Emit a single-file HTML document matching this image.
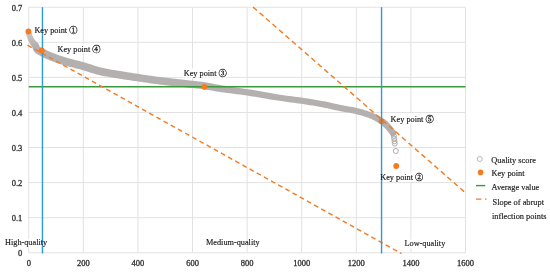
<!DOCTYPE html>
<html><head><meta charset="utf-8"><style>
html,body{margin:0;padding:0;background:#fff;}
body{width:550px;height:272px;overflow:hidden;}
svg{display:block;}
text{font-family:"Liberation Serif","Noto Serif CJK SC",serif;}
</style></head><body>
<svg width="550" height="272" viewBox="0 0 550 272">
<rect width="550" height="272" fill="#fff"/>
<g stroke="#e2e2e2" stroke-width="1" fill="none"><line x1="83.34" y1="7.26" x2="83.34" y2="252.75"/><line x1="137.94" y1="7.26" x2="137.94" y2="252.75"/><line x1="192.53" y1="7.26" x2="192.53" y2="252.75"/><line x1="247.12" y1="7.26" x2="247.12" y2="252.75"/><line x1="301.72" y1="7.26" x2="301.72" y2="252.75"/><line x1="356.31" y1="7.26" x2="356.31" y2="252.75"/><line x1="410.91" y1="7.26" x2="410.91" y2="252.75"/><line x1="465.50" y1="7.26" x2="465.50" y2="252.75"/><line x1="28.75" y1="217.68" x2="465.50" y2="217.68"/><line x1="28.75" y1="182.61" x2="465.50" y2="182.61"/><line x1="28.75" y1="147.54" x2="465.50" y2="147.54"/><line x1="28.75" y1="112.47" x2="465.50" y2="112.47"/><line x1="28.75" y1="77.40" x2="465.50" y2="77.40"/><line x1="28.75" y1="42.33" x2="465.50" y2="42.33"/><line x1="28.75" y1="7.26" x2="465.50" y2="7.26"/><line x1="28.75" y1="7.26" x2="28.75" y2="252.75"/><line x1="28.75" y1="252.75" x2="465.50" y2="252.75"/></g>
<g font-size="8.5" fill="#333" stroke="#333" stroke-width="0.32"><text x="22.3" y="256.15" text-anchor="end">0</text><text x="22.3" y="221.08" text-anchor="end">0.1</text><text x="22.3" y="186.01" text-anchor="end">0.2</text><text x="22.3" y="150.94" text-anchor="end">0.3</text><text x="22.3" y="115.87" text-anchor="end">0.4</text><text x="22.3" y="80.80" text-anchor="end">0.5</text><text x="22.3" y="45.73" text-anchor="end">0.6</text><text x="22.3" y="10.66" text-anchor="end">0.7</text><text x="28.75" y="266.3" text-anchor="middle">0</text><text x="83.34" y="266.3" text-anchor="middle">200</text><text x="137.94" y="266.3" text-anchor="middle">400</text><text x="192.53" y="266.3" text-anchor="middle">600</text><text x="247.12" y="266.3" text-anchor="middle">800</text><text x="301.72" y="266.3" text-anchor="middle">1000</text><text x="356.31" y="266.3" text-anchor="middle">1200</text><text x="410.91" y="266.3" text-anchor="middle">1400</text><text x="465.50" y="266.3" text-anchor="middle">1600</text></g>
<defs><linearGradient id="bg" gradientUnits="userSpaceOnUse" x1="0" y1="34" x2="0" y2="46"><stop offset="0" stop-color="#c9c5c5"/><stop offset="1" stop-color="#b4b0b0"/></linearGradient></defs><g fill="url(#bg)"><path d="M26.36,34.52 L26.41,34.73 L26.48,35.01 L26.56,35.37 L26.66,35.77 L26.77,36.21 L26.89,36.66 L27.02,37.11 L27.16,37.55 L27.30,37.94 L27.43,38.30 L27.57,38.64 L27.71,38.97 L27.86,39.30 L28.01,39.63 L28.16,39.96 L28.32,40.30 L28.48,40.67 L28.64,41.07 L28.82,41.52 L29.03,41.99 L29.25,42.49 L29.49,43.01 L29.77,43.55 L30.08,44.11 L30.45,44.70 L30.83,45.25 L31.19,45.74 L31.52,46.19 L31.83,46.58 L32.08,46.92 L32.28,47.22 L32.39,47.42 L32.43,47.54 L32.49,47.74 L32.59,48.11 L32.74,48.66 L32.97,49.37 L33.33,50.22 L33.86,51.16 L34.57,52.06 L35.32,52.79 L36.06,53.39 L36.80,53.92 L37.54,54.40 L38.27,54.84 L39.01,55.23 L39.75,55.61 L40.50,56.01 L41.26,56.42 L42.04,56.85 L42.88,57.30 L43.78,57.75 L44.79,58.23 L45.90,58.73 L47.14,59.25 L48.53,59.81 L50.07,60.41 L51.76,61.05 L53.58,61.72 L55.51,62.43 L57.53,63.14 L59.61,63.84 L61.72,64.53 L63.86,65.20 L66.05,65.83 L68.31,66.43 L70.61,67.02 L72.93,67.59 L75.24,68.15 L77.53,68.72 L79.77,69.30 L81.92,69.88 L84.00,70.49 L86.04,71.14 L88.08,71.80 L90.15,72.49 L92.26,73.17 L94.45,73.85 L96.72,74.49 L99.09,75.09 L101.56,75.64 L104.11,76.15 L106.70,76.62 L109.32,77.07 L111.92,77.50 L114.49,77.91 L116.98,78.30 L119.37,78.69 L121.65,79.06 L123.83,79.41 L125.94,79.73 L128.02,80.05 L130.12,80.36 L132.27,80.67 L134.54,81.00 L136.94,81.35 L139.44,81.71 L141.98,82.09 L144.58,82.47 L147.27,82.86 L150.08,83.26 L153.05,83.67 L156.19,84.08 L159.55,84.49 L163.29,84.93 L167.49,85.40 L171.96,85.88 L176.52,86.36 L180.99,86.83 L185.20,87.27 L188.96,87.66 L192.10,88.00 L194.54,88.26 L196.41,88.46 L197.85,88.60 L198.99,88.72 L200.00,88.83 L201.04,88.95 L202.28,89.10 L203.86,89.32 L205.70,89.60 L207.61,89.90 L209.62,90.24 L211.73,90.60 L213.96,90.99 L216.33,91.38 L218.83,91.78 L221.48,92.18 L224.28,92.57 L227.19,92.95 L230.23,93.34 L233.37,93.74 L236.63,94.15 L239.99,94.59 L243.45,95.06 L247.01,95.57 L250.79,96.14 L254.86,96.78 L259.12,97.46 L263.45,98.19 L267.76,98.93 L271.95,99.63 L275.90,100.29 L279.53,100.86 L282.80,101.35 L285.80,101.78 L288.59,102.15 L291.22,102.49 L293.76,102.81 L296.27,103.14 L298.80,103.48 L301.44,103.87 L304.20,104.29 L307.02,104.72 L309.86,105.17 L312.68,105.62 L315.46,106.08 L318.15,106.54 L320.74,107.00 L323.17,107.45 L325.43,107.89 L327.54,108.34 L329.56,108.80 L331.51,109.26 L333.44,109.71 L335.38,110.16 L337.35,110.61 L339.39,111.04 L341.48,111.44 L343.57,111.81 L345.64,112.16 L347.69,112.50 L349.71,112.84 L351.69,113.20 L353.63,113.58 L355.53,114.02 L357.45,114.49 L359.38,115.00 L361.31,115.54 L363.20,116.09 L365.05,116.67 L366.82,117.26 L368.51,117.86 L370.08,118.47 L371.54,119.11 L372.95,119.81 L374.31,120.53 L375.61,121.27 L376.85,122.02 L378.02,122.75 L379.12,123.46 L380.12,124.12 L380.98,124.71 L381.69,125.24 L382.31,125.74 L382.87,126.23 L383.40,126.69 L383.92,127.18 L384.46,127.69 L385.00,128.20 L385.49,128.69 L385.94,129.17 L386.38,129.66 L386.81,130.17 L387.22,130.68 L387.62,131.19 L388.01,131.69 L388.38,132.15 L388.71,132.56 L389.00,132.94 L389.28,133.31 L389.53,133.67 L389.76,134.00 L389.97,134.30 L390.17,134.58 L390.32,134.80 L395.48,131.20 L395.35,131.01 L395.18,130.76 L394.97,130.44 L394.72,130.07 L394.44,129.65 L394.12,129.20 L393.77,128.72 L393.42,128.25 L393.06,127.79 L392.69,127.28 L392.27,126.73 L391.82,126.14 L391.32,125.52 L390.78,124.88 L390.20,124.23 L389.60,123.60 L389.03,123.03 L388.48,122.46 L387.87,121.87 L387.21,121.26 L386.47,120.64 L385.63,120.00 L384.70,119.34 L383.68,118.68 L382.58,117.99 L381.40,117.27 L380.12,116.52 L378.74,115.74 L377.28,114.96 L375.73,114.19 L374.11,113.44 L372.42,112.73 L370.67,112.05 L368.85,111.40 L366.95,110.77 L365.00,110.16 L363.01,109.57 L361.00,109.02 L358.98,108.49 L356.97,107.98 L354.93,107.52 L352.86,107.11 L350.78,106.73 L348.71,106.38 L346.66,106.04 L344.62,105.70 L342.60,105.34 L340.61,104.96 L338.67,104.55 L336.76,104.12 L334.86,103.68 L332.94,103.22 L330.95,102.76 L328.87,102.29 L326.67,101.82 L324.33,101.35 L321.84,100.90 L319.21,100.43 L316.48,99.97 L313.68,99.50 L310.83,99.04 L307.98,98.59 L305.14,98.16 L302.36,97.73 L299.67,97.34 L297.09,96.99 L294.55,96.66 L292.01,96.34 L289.39,96.00 L286.64,95.63 L283.69,95.22 L280.47,94.74 L276.89,94.17 L272.97,93.52 L268.80,92.82 L264.50,92.08 L260.16,91.34 L255.90,90.58 L251.81,89.87 L247.99,89.23 L244.40,88.66 L240.90,88.13 L237.52,87.63 L234.26,87.16 L231.12,86.71 L228.12,86.28 L225.25,85.85 L222.52,85.42 L219.94,84.99 L217.50,84.56 L215.18,84.14 L212.97,83.72 L210.85,83.32 L208.82,82.94 L206.85,82.59 L204.94,82.28 L203.28,82.02 L201.97,81.83 L200.85,81.68 L199.77,81.56 L198.59,81.43 L197.17,81.28 L195.33,81.08 L192.90,80.80 L189.75,80.44 L185.98,80.02 L181.77,79.56 L177.31,79.06 L172.76,78.56 L168.32,78.05 L164.16,77.56 L160.45,77.11 L157.16,76.68 L154.06,76.26 L151.14,75.84 L148.36,75.43 L145.69,75.02 L143.10,74.63 L140.57,74.24 L138.06,73.85 L135.64,73.49 L133.39,73.15 L131.25,72.82 L129.17,72.50 L127.11,72.18 L125.04,71.85 L122.89,71.49 L120.63,71.11 L118.22,70.71 L115.72,70.30 L113.18,69.88 L110.62,69.44 L108.08,68.99 L105.59,68.52 L103.19,68.03 L100.91,67.51 L98.76,66.95 L96.68,66.36 L94.64,65.72 L92.60,65.05 L90.55,64.36 L88.46,63.67 L86.30,62.98 L84.08,62.32 L81.79,61.69 L79.47,61.09 L77.14,60.50 L74.82,59.92 L72.54,59.35 L70.32,58.78 L68.18,58.20 L66.14,57.60 L64.14,56.98 L62.13,56.31 L60.14,55.63 L58.20,54.94 L56.34,54.25 L54.57,53.59 L52.94,52.96 L51.47,52.39 L50.20,51.87 L49.10,51.41 L48.14,50.97 L47.28,50.56 L46.48,50.17 L45.70,49.79 L44.92,49.40 L44.10,48.99 L43.28,48.59 L42.52,48.23 L41.83,47.90 L41.22,47.64 L40.71,47.41 L40.30,47.21 L40.00,47.04 L39.83,46.94 L39.78,46.94 L39.75,46.92 L39.67,46.78 L39.56,46.48 L39.40,46.00 L39.19,45.37 L38.86,44.59 L38.41,43.78 L37.92,43.10 L37.45,42.54 L37.00,42.06 L36.58,41.63 L36.18,41.28 L35.83,40.98 L35.55,40.72 L35.32,40.49 L35.09,40.22 L34.85,39.90 L34.61,39.56 L34.37,39.20 L34.14,38.83 L33.92,38.45 L33.69,38.07 L33.48,37.70 L33.29,37.36 L33.13,37.06 L32.99,36.80 L32.86,36.56 L32.75,36.34 L32.64,36.12 L32.54,35.89 L32.44,35.65 L32.34,35.39 L32.23,35.06 L32.11,34.70 L32.00,34.33 L31.90,33.96 L31.80,33.62 L31.71,33.31 L31.64,33.08Z"/><circle cx="29.00" cy="33.80" r="2.74"/><circle cx="392.90" cy="133.00" r="3.14"/></g>
<g fill="none" stroke="#a8a4a4" stroke-width="0.9"><circle cx="393.8" cy="135.8" r="2.5"/><circle cx="394.2" cy="138.6" r="2.5"/><circle cx="394.5" cy="141.2" r="2.5"/><circle cx="394.8" cy="143.6" r="2.5"/><circle cx="395.8" cy="151" r="2.5"/></g>
<line x1="28.75" y1="86.7" x2="465.50" y2="86.7" stroke="#389a3a" stroke-width="1.5"/>
<g stroke="#f57a20" stroke-width="1.4" stroke-dasharray="4.8 3.4" fill="none">
<line x1="27.5" y1="45.2" x2="401.5" y2="253.6"/>
<line x1="253.1" y1="7.1" x2="465.6" y2="192.9" stroke-dasharray="5.1 3.5"/>
</g>
<g fill="#fff">
<rect x="57" y="44" width="44.5" height="9"/>
<rect x="183" y="68.5" width="45" height="9"/>
<rect x="389.5" y="113.6" width="45.5" height="9.8"/>
<rect x="379" y="172.6" width="45" height="9.4"/>
<rect x="4" y="238.4" width="43" height="8.8"/>
<rect x="403.5" y="239.6" width="41.5" height="8.8"/>
</g>
<line x1="42.45" y1="7.26" x2="42.45" y2="253.5" stroke="#2b9bd8" stroke-width="1.4"/>
<g fill="#f57a20">
<circle cx="28.4" cy="31.5" r="2.9"/>
<circle cx="41.8" cy="50.5" r="2.9"/>
<circle cx="204.4" cy="86.8" r="2.9"/>
<circle cx="381.6" cy="121.2" r="2.9"/>
<circle cx="396.25" cy="166" r="2.9"/>
</g>
<line x1="381.55" y1="7.26" x2="381.55" y2="253.5" stroke="#2b9bd8" stroke-width="1.4"/>
<g font-size="8.25" fill="#1a1a1a" stroke="#1a1a1a" stroke-width="0.15">
<text x="34.4" y="33.1">Key point <tspan stroke-width="0.3">①</tspan></text>
<text x="57.5" y="51.9">Key point <tspan stroke-width="0.3">④</tspan></text>
<text x="183.75" y="75.75">Key point <tspan stroke-width="0.3">③</tspan></text>
<text x="390.6" y="121.6">Key point <tspan stroke-width="0.3">⑤</tspan></text>
<text x="380.25" y="180.4">Key point <tspan stroke-width="0.3">②</tspan></text>
</g>
<g font-size="8.25" fill="#1a1a1a" stroke="#1a1a1a" stroke-width="0.15">
<text x="5" y="245.2">High-quality</text>
<text x="206" y="245.2">Medium-quality</text>
<text x="404.5" y="246.3">Low-quality</text>
</g>
<circle cx="479.75" cy="159" r="2.5" fill="none" stroke="#b0b0b0" stroke-width="0.9"/>
<circle cx="480.6" cy="172.4" r="2.8" fill="#f57a20"/>
<line x1="476" y1="185.6" x2="485.25" y2="185.6" stroke="#389a3a" stroke-width="1.4"/>
<line x1="476" y1="199.1" x2="486.4" y2="199.1" stroke="#f57a20" stroke-width="1.4" stroke-dasharray="5.4 3.6"/>
<g font-size="8.35" fill="#1a1a1a" stroke="#1a1a1a" stroke-width="0.15">
<text x="491.25" y="162.9">Quality score</text>
<text x="491.4" y="175.9">Key point</text>
<text x="491.5" y="189.6">Average value</text>
<text x="492.5" y="204.7">Slope of abrupt</text>
<text x="492" y="219.2">inflection points</text>
</g>
</svg>
</body></html>
